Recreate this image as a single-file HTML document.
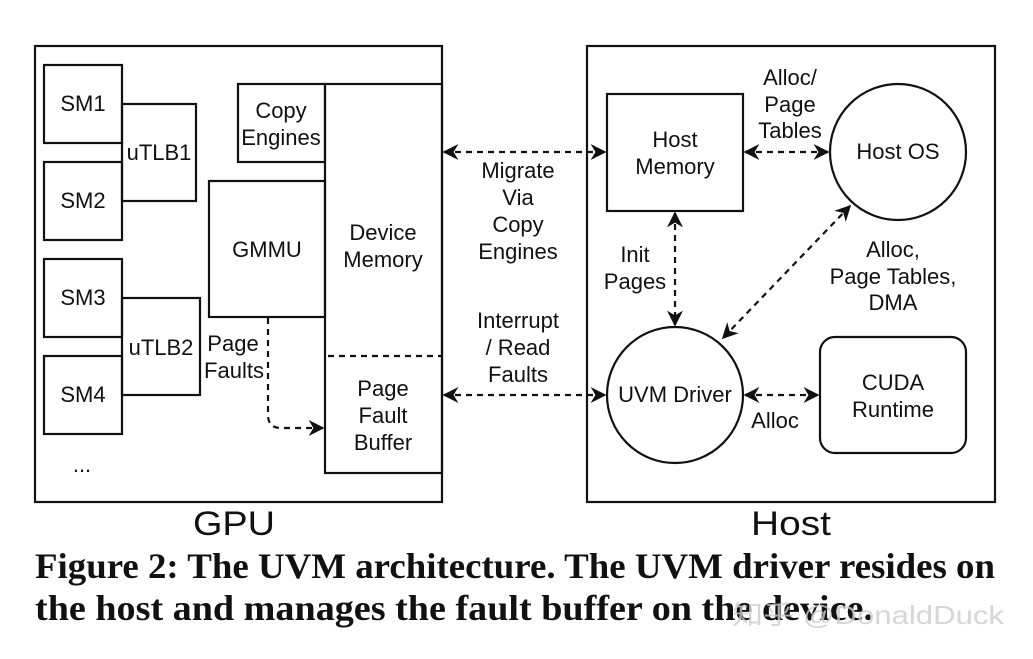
<!DOCTYPE html>
<html><head><meta charset="utf-8"><style>
html,body{margin:0;padding:0;background:#fff;}
svg{display:block;}
text{font-family:"Liberation Sans",sans-serif;font-size:22px;fill:#111;}
.c{text-anchor:middle;}
.cap{font-family:"Liberation Serif",serif;font-weight:bold;font-size:36px;}
</style></head><body>
<svg width="1033" height="659" viewBox="0 0 1033 659" xmlns="http://www.w3.org/2000/svg">
<defs>
<marker id="a" viewBox="0 0 10 10" refX="9" refY="5" markerWidth="16" markerHeight="16" orient="auto-start-reverse" markerUnits="userSpaceOnUse">
<path d="M0,0 L10,5 L0,10 L3,5 Z" fill="#111"/></marker>
</defs>
<g fill="none" stroke="#111" stroke-width="2.2">
<rect x="35" y="46" width="407" height="456"/>
<rect x="587" y="46" width="408" height="456"/>
<rect x="44" y="65" width="78" height="78"/>
<rect x="44" y="162" width="78" height="78"/>
<rect x="44" y="259" width="78" height="78"/>
<rect x="44" y="356" width="78" height="78"/>
<rect x="122" y="104" width="74" height="97"/>
<rect x="122" y="298" width="78" height="97"/>
<rect x="238" y="84" width="87" height="78"/>
<rect x="209" y="181" width="116" height="136"/>
<rect x="325" y="84" width="117" height="389"/>
<line x1="328" y1="356" x2="442" y2="356" stroke-dasharray="6,5"/>
<path d="M268,318 L268,415 Q268,428 281,428 L323,428" stroke-dasharray="6,5" marker-end="url(#a)"/>
<rect x="607" y="94" width="136" height="117"/>
<circle cx="898" cy="152" r="68"/>
<circle cx="675" cy="395" r="68"/>
<rect x="820" y="337" width="146" height="116" rx="15"/>
<line x1="444" y1="152" x2="605" y2="152" stroke-dasharray="6,5" marker-start="url(#a)" marker-end="url(#a)"/>
<line x1="444" y1="395" x2="605" y2="395" stroke-dasharray="6,5" marker-start="url(#a)" marker-end="url(#a)"/>
<line x1="745" y1="152" x2="828" y2="152" stroke-dasharray="6,5" marker-start="url(#a)" marker-end="url(#a)"/>
<line x1="675" y1="213" x2="675" y2="325" stroke-dasharray="6,5" marker-start="url(#a)" marker-end="url(#a)"/>
<line x1="850" y1="206" x2="723" y2="338" stroke-dasharray="6,5" marker-start="url(#a)" marker-end="url(#a)"/>
<line x1="745" y1="395" x2="818" y2="395" stroke-dasharray="6,5" marker-start="url(#a)" marker-end="url(#a)"/>
</g>
<text x="83" y="111" class="c">SM1</text>
<text x="83" y="208" class="c">SM2</text>
<text x="83" y="305" class="c">SM3</text>
<text x="83" y="402" class="c">SM4</text>
<text x="159" y="160" class="c">uTLB1</text>
<text x="161" y="355" class="c">uTLB2</text>
<text x="82" y="472" class="c">...</text>
<text x="281" y="118" class="c">Copy</text>
<text x="281" y="145" class="c">Engines</text>
<text x="267" y="257" class="c">GMMU</text>
<text x="383" y="240" class="c">Device</text>
<text x="383" y="267" class="c">Memory</text>
<text x="233" y="351" class="c">Page</text>
<text x="234" y="378" class="c">Faults</text>
<text x="383" y="396" class="c">Page</text>
<text x="383" y="423" class="c">Fault</text>
<text x="383" y="450" class="c">Buffer</text>
<text x="518" y="178" class="c">Migrate</text>
<text x="518" y="205" class="c">Via</text>
<text x="518" y="232" class="c">Copy</text>
<text x="518" y="259" class="c">Engines</text>
<text x="518" y="328" class="c">Interrupt</text>
<text x="518" y="355" class="c">/ Read</text>
<text x="518" y="382" class="c">Faults</text>
<text x="675" y="147" class="c">Host</text>
<text x="675" y="174" class="c">Memory</text>
<text x="790" y="85" class="c">Alloc/</text>
<text x="790" y="112" class="c">Page</text>
<text x="790" y="138" class="c">Tables</text>
<text x="898" y="159" class="c">Host OS</text>
<text x="635" y="262" class="c">Init</text>
<text x="635" y="289" class="c">Pages</text>
<text x="893" y="257" class="c">Alloc,</text>
<text x="893" y="284" class="c">Page Tables,</text>
<text x="893" y="310" class="c">DMA</text>
<text x="675" y="402" class="c">UVM Driver</text>
<text x="893" y="390" class="c">CUDA</text>
<text x="893" y="417" class="c">Runtime</text>
<text x="775" y="428" class="c">Alloc</text>
<text x="193" y="535" style="font-size:34px" textLength="82" lengthAdjust="spacingAndGlyphs">GPU</text>
<text x="751" y="535" style="font-size:34px" textLength="80" lengthAdjust="spacingAndGlyphs">Host</text>
<text x="35" y="578" class="cap" textLength="960" lengthAdjust="spacingAndGlyphs">Figure 2: The UVM architecture. The UVM driver resides on</text>
<text x="35" y="620" class="cap" textLength="838" lengthAdjust="spacingAndGlyphs">the host and manages the fault buffer on the device.</text>
<text x="732" y="624" style="font-family:'Liberation Sans','Noto Sans CJK SC',sans-serif;font-size:26px;fill:#ccc;opacity:0.8" textLength="272" lengthAdjust="spacingAndGlyphs">知乎 @DonaldDuck</text>
</svg>
</body></html>
